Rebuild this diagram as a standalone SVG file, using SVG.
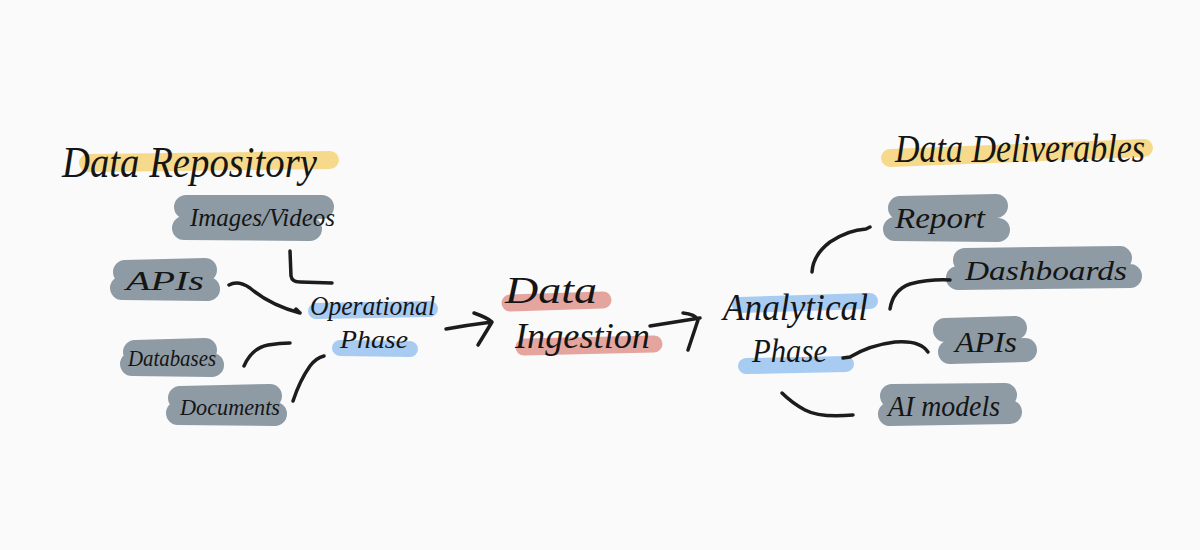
<svg xmlns="http://www.w3.org/2000/svg" width="1200" height="550" viewBox="0 0 1200 550">
<style>
.t{font-family:"Liberation Serif",serif;font-style:italic;fill:#151515}
.yl{stroke:#f6d98a;fill:none;stroke-linecap:round;stroke-width:18}
.gr{stroke:#8e9ba4;fill:none;stroke-linecap:round;stroke-linejoin:round;stroke-width:24}
.bl{stroke:#a8cbf2;fill:none;stroke-linecap:round;stroke-width:16}
.pk{stroke:#e4a59e;fill:none;stroke-linecap:round;stroke-width:17}
.c{stroke:#1c1c1c;fill:none;stroke-width:3.5;stroke-linecap:round;stroke-linejoin:round}
</style>
<rect width="1200" height="550" fill="#fafafa"/>
<g id="data-repository">
<path class="yl" d="M88 163 L330 160"/>
<text class="t" x="62" y="177" font-size="44" textLength="255" lengthAdjust="spacingAndGlyphs">Data Repository</text>
</g>
<g id="images-videos">
<path class="gr" d="M186 207 L322 207 M184 228 L310 229"/>
<text class="t" x="190" y="226" font-size="26" textLength="145" lengthAdjust="spacingAndGlyphs">Images/Videos</text>
</g>
<g id="apis-left">
<path class="gr" d="M125 272 L205 270 M122 288 L208 289"/>
<text class="t" x="126" y="290" font-size="28" textLength="78" lengthAdjust="spacingAndGlyphs">APIs</text>
</g>
<g id="databases">
<path class="gr" d="M135 352 L205 350 M132 364 L212 365"/>
<text class="t" x="128" y="366" font-size="23" textLength="88" lengthAdjust="spacingAndGlyphs">Databases</text>
</g>
<g id="documents">
<path class="gr" d="M180 398 L270 396 M178 413 L275 414"/>
<text class="t" x="180" y="415" font-size="24" textLength="100" lengthAdjust="spacingAndGlyphs">Documents</text>
</g>
<g id="operational-phase">
<path class="bl" d="M316 311 L430 309 M340 348 L410 349"/>
<text class="t" x="310" y="315" font-size="27" textLength="125" lengthAdjust="spacingAndGlyphs">Operational</text>
<text class="t" x="340" y="348" font-size="25" textLength="68" lengthAdjust="spacingAndGlyphs">Phase</text>
</g>
<g id="data-ingestion">
<path class="pk" d="M510 303 L603 300 M524 347 L654 344"/>
<text class="t" x="505" y="303" font-size="38" textLength="92" lengthAdjust="spacingAndGlyphs">Data</text>
<text class="t" x="515" y="348" font-size="36" textLength="135" lengthAdjust="spacingAndGlyphs">Ingestion</text>
</g>
<g id="analytical-phase">
<path class="bl" d="M740 305 L870 301 M746 366 L846 364"/>
<text class="t" x="723" y="320" font-size="38" textLength="145" lengthAdjust="spacingAndGlyphs">Analytical</text>
<text class="t" x="752" y="362" font-size="34" textLength="75" lengthAdjust="spacingAndGlyphs">Phase</text>
</g>
<g id="data-deliverables">
<path class="yl" d="M890 158 L1144 148"/>
<text class="t" x="895" y="162" font-size="40" textLength="250" lengthAdjust="spacingAndGlyphs">Data Deliverables</text>
</g>
<g id="report">
<path class="gr" d="M900 208 L996 206 M895 229 L998 230"/>
<text class="t" x="895" y="228" font-size="30" textLength="90" lengthAdjust="spacingAndGlyphs">Report</text>
</g>
<g id="dashboards">
<path class="gr" d="M965 260 L1120 258 M958 278 L1130 276"/>
<text class="t" x="965" y="280" font-size="28" textLength="162" lengthAdjust="spacingAndGlyphs">Dashboards</text>
</g>
<g id="apis-right">
<path class="gr" d="M945 330 L1015 328 M950 352 L1025 350"/>
<text class="t" x="955" y="352" font-size="30" textLength="62" lengthAdjust="spacingAndGlyphs">APIs</text>
</g>
<g id="ai-models">
<path class="gr" d="M892 396 L1005 395 M890 414 L1010 412"/>
<text class="t" x="888" y="416" font-size="30" textLength="112" lengthAdjust="spacingAndGlyphs">AI models</text>
</g>
<g id="connectors">
<path class="c" d="M290 251 L291 276 Q292 282 300 282 L332 283"/>
<path class="c" d="M229 285 Q238 280 250 288 Q270 305 300 313 M300 313 L296 309"/>
<path class="c" d="M244 366 Q252 348 268 345 Q280 343 290 343"/>
<path class="c" d="M293 401 Q300 380 310 366 Q316 358 324 356"/>
<path class="c" d="M446 329 Q468 325 492 322 M474 313 Q488 318 492 322 Q486 332 478 345"/>
<path class="c" d="M650 326 Q675 322 700 318 M683 313 Q695 314 698 320 Q693 335 688 350"/>
<path class="c" d="M812 272 Q813 255 830 242 Q848 230 866 229 L870 227"/>
<path class="c" d="M890 309 Q893 290 910 284 Q930 279 950 280"/>
<path class="c" d="M928 352 Q920 340 895 342 Q870 345 850 357 L843 358"/>
<path class="c" d="M853 415 Q820 418 805 410 Q792 403 782 393"/>
</g>
</svg>
